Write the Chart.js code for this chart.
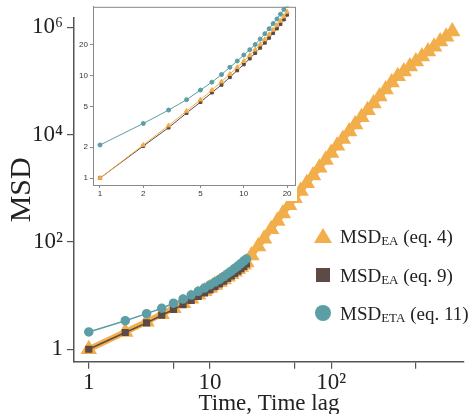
<!DOCTYPE html>
<html><head><meta charset="utf-8">
<script src="https://cdn.jsdelivr.net/npm/chart.js@4"></script>
<style>
html,body{margin:0;padding:0;background:#fff;}
#wrap{position:relative;width:474px;height:414px;}
#main{position:absolute;left:0;top:0;}
#inset{position:absolute;left:0;top:0;}
</style></head><body>
<div id="wrap"><canvas id="main" width="474" height="414"></canvas><canvas id="inset" width="310" height="205"></canvas></div>
<script>
const tShort = [1,2,3,4,5,6,7,8,9,10,11,12,13,14,15,16,17,18,19,20];
const msdEta11 = [2.1,3.4,4.6,5.8,7.2,8.6,10.2,12,13.8,15.8,17.8,20,22.6,25.5,28.5,32,35.5,39.5,44,48];
const msdEa9 = [1,2.05,3.1,4.3,5.5,6.8,8.1,9.6,11.2,12.8,14.6,16.5,18.6,20.8,23.2,25.8,28.6,31.6,35,39];
const tLong = [1,2,3,4,5,6,7,8,9,10,11,12,13,14,15,16,17,18,19,20,22,25,28,32,36,40,45,50,56,63,71,80,90,100,112,125,141,158,178,200,224,251,282,316,355,398,447,501,562,631,708,794,891,1000];
const msdEa4 = [1,2.1,3.25,4.5,5.8,7.2,8.7,10.3,12,13.8,15.7,17.8,20,22.4,25,27.8,30.8,34,37.5,41.5,56,82,115,172,245,338,480,650,890,1240,1730,2400,3360,4550,6200,8300,11400,15400,21000,28500,38000,51000,69000,93000,122000,150000,186000,230000,284000,352000,435000,540000,665000,830000];
const mainXTicks = [1,5,10,50,100,500];
const mainXLabels = {1:'1',10:'10',100:'10²'};
const mainYTicks = [1,100,10000,1000000];
const mainYLabels = {1:'1',100:'10²',10000:'10⁴',1000000:'10⁶'};
const insetTicks = [1,2,5,10,20];

const ORANGE='#F2AE4B', BROWN='#5E4A44', TEAL='#5B9EA6';
const pts=(xs,ys)=>xs.map((x,i)=>({x:x,y:ys[i]}));
const serif="'Liberation Serif','DejaVu Serif',serif";

const legendPlugin={id:'leg',afterDraw(c){
  const ctx=c.ctx;
  const items=[['triangle',ORANGE,'EA',' (eq. 4)',236],['rect',BROWN,'EA',' (eq. 9)',275],['circle',TEAL,'ETA',' (eq. 11)',313]];
  items.forEach(([shape,col,sub,rest,y])=>{
    ctx.save();ctx.fillStyle=col;ctx.beginPath();
    const cx=323;
    if(shape==='triangle'){ctx.moveTo(cx,y-8);ctx.lineTo(cx+9,y+7);ctx.lineTo(cx-9,y+7);ctx.closePath();}
    else if(shape==='rect'){ctx.rect(cx-7,y-7,14,14);}
    else{ctx.arc(cx,y,8,0,Math.PI*2);}
    ctx.fill();
    ctx.fillStyle='#222';ctx.textBaseline='alphabetic';
    let x=340;
    ctx.font='19px '+serif;ctx.fillText('MSD',x,y+7);x+=ctx.measureText('MSD').width;
    ctx.font='13px '+serif;ctx.fillText(sub,x,y+9);x+=ctx.measureText(sub).width;
    ctx.font='19px '+serif;ctx.fillText(rest,x,y+7);
    ctx.restore();
  });
}};

new Chart(document.getElementById('main'),{
  type:'scatter',
  data:{datasets:[
    {data:pts(tShort,msdEta11),showLine:true,borderColor:TEAL,backgroundColor:TEAL,borderWidth:1.5,pointStyle:'circle',pointRadius:4,order:1},
    {data:pts(tShort,msdEa9),showLine:true,borderColor:BROWN,backgroundColor:BROWN,borderWidth:1.5,pointStyle:'rect',pointRadius:4,order:2},
    {data:pts(tLong,msdEa4),showLine:true,borderColor:ORANGE,backgroundColor:ORANGE,borderWidth:6,pointStyle:'triangle',pointRadius:3.5,order:3}
  ]},
  options:{responsive:false,animation:false,devicePixelRatio:1,
    layout:{padding:{top:2,right:4,left:0,bottom:-4}},
    plugins:{legend:{display:false},tooltip:{enabled:false}},
    scales:{
      x:{type:'logarithmic',min:0.755,max:1250,
        afterBuildTicks:s=>{s.ticks=mainXTicks.map(v=>({value:v}));},
        ticks:{callback:v=>mainXLabels[v]||'',font:{family:serif,size:23},color:'#222',maxRotation:0,autoSkip:false,padding:0},
        grid:{drawOnChartArea:false,tickLength:7,color:'#555',lineWidth:1.2},
        border:{color:'#555',width:1.5},
        title:{display:true,text:'Time, Time lag',font:{family:serif,size:23},color:'#222',padding:{top:-6,bottom:0}}},
      y:{type:'logarithmic',min:0.583,max:1.5e6,
        afterBuildTicks:s=>{s.ticks=mainYTicks.map(v=>({value:v}));},
        afterFit:s=>{s.width=74;},
        ticks:{callback:v=>mainYLabels[v]||'',font:{family:serif,size:23},color:'#222',autoSkip:false,padding:4},
        grid:{drawOnChartArea:false,tickLength:7,color:'#555',lineWidth:1.2},
        border:{color:'#555',width:1.5},
        title:{display:true,text:'MSD',font:{family:serif,size:30},color:'#222',padding:{bottom:0}}}
    }},
  plugins:[legendPlugin]
});

const boxPlugin={id:'box',beforeDraw(c){const a=c.chartArea,ctx=c.ctx;ctx.save();ctx.fillStyle='#fff';ctx.fillRect(a.left-16,a.top,a.right-a.left+18,a.bottom-a.top+16);ctx.restore();},
  afterDraw(c){const a=c.chartArea,ctx=c.ctx;ctx.save();ctx.strokeStyle='#888';ctx.lineWidth=1;ctx.strokeRect(a.left+0.5,a.top+0.5,a.right-a.left,a.bottom-a.top);ctx.restore();}};
const small={family:"'Liberation Sans',Arial,sans-serif",size:8};
new Chart(document.getElementById('inset'),{
  type:'scatter',
  data:{datasets:[
    {data:pts(tShort,msdEta11),showLine:true,borderColor:TEAL,backgroundColor:TEAL,borderWidth:1,pointStyle:'circle',pointRadius:2,order:1},
    {data:pts(tShort,msdEa9),showLine:true,borderColor:BROWN,backgroundColor:BROWN,borderWidth:1,pointStyle:'rect',pointRadius:2,order:3},
    {data:pts(tShort,msdEa4),showLine:true,borderColor:ORANGE,backgroundColor:ORANGE,borderWidth:1,pointStyle:'triangle',pointRadius:2.6,order:2}
  ]},
  options:{responsive:false,animation:false,devicePixelRatio:1,
    layout:{padding:{top:5,right:15,left:0,bottom:0}},
    plugins:{legend:{display:false},tooltip:{enabled:false}},
    scales:{
      x:{type:'logarithmic',min:0.894,max:22.7,
        afterBuildTicks:s=>{s.ticks=insetTicks.map(v=>({value:v}));},
        afterFit:s=>{s.height=20;},
        ticks:{callback:v=>String(v),font:small,color:'#333',maxRotation:0,autoSkip:false,padding:1},
        grid:{drawOnChartArea:false,tickLength:3,color:'#888'},border:{color:'#888'}},
      y:{type:'logarithmic',min:0.856,max:46.6,
        afterBuildTicks:s=>{s.ticks=insetTicks.map(v=>({value:v}));},
        afterFit:s=>{s.width=93;},
        ticks:{callback:v=>String(v),font:small,color:'#333',autoSkip:false,padding:2},
        grid:{drawOnChartArea:false,tickLength:3,color:'#888'},border:{color:'#888'}}
    }},
  plugins:[boxPlugin]
});
</script></body></html>
